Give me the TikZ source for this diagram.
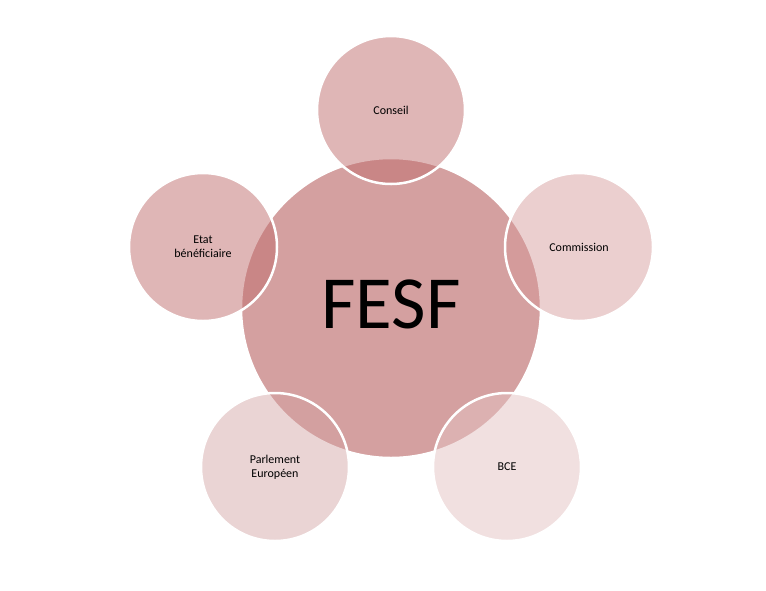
\documentclass[tikz,border=0pt]{standalone}
\usepackage{fontspec}
\setmainfont{Carlito}
\definecolor{cmain}{RGB}{212,160,160}
\definecolor{c1}{RGB}{192,110,110}
\definecolor{c2}{RGB}{212,150,150}
\definecolor{c3}{RGB}{228,195,195}
\definecolor{c4}{RGB}{210,160,160}
\begin{document}
\begin{tikzpicture}[x=1pt,y=-1pt,
  sat/.style={circle,minimum size=148pt,draw=white,line width=2.5pt,font=\fontsize{12}{14}\selectfont,align=center,inner sep=0pt,text opacity=1}]
\useasboundingbox (0,0) rectangle (766,590);
\fill[white] (0,0) rectangle (766,590);
\node[circle,minimum size=300pt,fill=cmain,draw=white,line width=2.5pt,inner sep=0pt] (c) at (391,308) {};
\node[font=\fontsize{75}{80}\selectfont] (t) at (391,304) {FESF};
\node[sat,fill=c1,fill opacity=0.5] (a) at (391,110) {Conseil};
\node[sat,fill=c2,fill opacity=0.45] (b) at (579,247) {Commission};
\node[sat,fill=c3,fill opacity=0.5] (d) at (507,467) {BCE};
\node[sat,fill=c4,fill opacity=0.45] (e) at (275,467) {Parlement\\Européen};
\node[sat,fill=c1,fill opacity=0.5] (f) at (203,247) {Etat\\bénéficiaire};
\end{tikzpicture}
\end{document}
